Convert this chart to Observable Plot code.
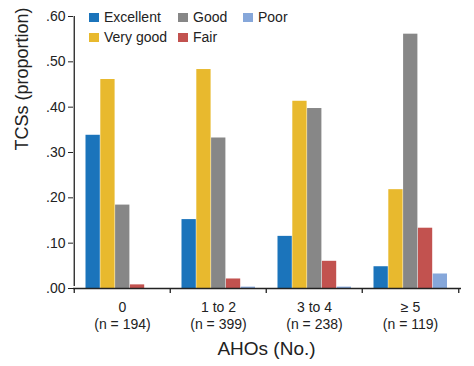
<!DOCTYPE html>
<html>
<head>
<meta charset="utf-8">
<script src="https://cdn.jsdelivr.net/npm/d3@7"></script>
<script src="https://cdn.jsdelivr.net/npm/@observablehq/plot@0.6"></script>
<style>
  body { margin: 0; background: #fff; }
  #wrap { position: relative; width: 474px; height: 366px; font-family: "Liberation Sans", Arial, sans-serif; }
  #legend { position: absolute; left: 0; top: 0; font-size: 14px; color: #222; }
  .item { position: absolute; display: flex; align-items: center; white-space: nowrap; }
  .sw { width: 10px; height: 9px; margin-right: 5px; }
</style>
</head>
<body>
<div id="wrap"><div id="legend"></div></div>
<script>
const categories = ["0", "1 to 2", "3 to 4", "\u2265 5"];
const counts = [194, 399, 238, 119];
const series = ["Excellent", "Very good", "Good", "Fair", "Poor"];
const colors = ["#1b74bb", "#e8b92e", "#878787", "#c2524f", "#86a7da"];
const excellent = [0.338, 0.152, 0.115, 0.048];
const veryGood  = [0.461, 0.483, 0.413, 0.218];
const good      = [0.184, 0.332, 0.397, 0.561];
const fair      = [0.008, 0.021, 0.060, 0.133];
const poor      = [0.000, 0.003, 0.003, 0.032];
const yTicks = [0, 0.1, 0.2, 0.3, 0.4, 0.5, 0.6];

const valuesBySeries = [excellent, veryGood, good, fair, poor];
const data = [];
series.forEach((s, si) => categories.forEach((c, ci) => data.push({series: s, cat: c, value: valuesBySeries[si][ci]})));

const W = 474, H = 366, mL = 73, mR = 15;
const step = (W - mL - mR) / categories.length;
const off = 11.5, bw = 14.8;

const barMarks = series.map((s, i) => Plot.barY(data.filter(d => d.series === s), {
  x: "cat", y: "value", fill: colors[i],
  insetLeft: off + bw * i, insetRight: step - off - bw * (i + 1)
}));

const chart = Plot.plot({
  width: W, height: H,
  marginLeft: mL, marginRight: mR, marginTop: 16, marginBottom: 78,
  style: {fontFamily: "Liberation Sans, Arial, sans-serif", color: "#222", background: "white"},
  x: {domain: categories, padding: 0},
  y: {domain: [0, 0.6]},
  marks: [
    ...barMarks,
    Plot.ruleY([0], {stroke: "#222", strokeWidth: 1.3, insetRight: -2}),
    Plot.ruleX([0], {x: () => categories[0], y1: 0, y2: 0.6, dx: -step / 2, stroke: "#222", strokeWidth: 1.3, insetTop: -2}),
    Plot.ruleX(categories, {x: d => d, y1: 0, y2: 0, insetBottom: -5, dx: -step / 2, stroke: "#222", strokeWidth: 1.3}),
    Plot.ruleX([categories[categories.length - 1]], {x: d => d, y1: 0, y2: 0, insetBottom: -5, dx: step / 2, stroke: "#222", strokeWidth: 1.3}),
    Plot.axisY({ticks: yTicks, tickSize: 5, tickPadding: 3, fontSize: 14, label: null,
      tickFormat: d => d3.format(".2f")(d).replace(/^0/, "")}),
    Plot.axisX({tickSize: 0, tickPadding: 12, fontSize: 14, lineHeight: 1.2, label: null,
      tickFormat: (d, i) => d + "\n(n = " + counts[categories.indexOf(d)] + ")"}),
    Plot.text(["AHOs (No.)"], {frameAnchor: "bottom", dy: 66, fontSize: 19, fill: "#222"}),
    Plot.text(["TCSs (proportion)"], {frameAnchor: "left", dx: -51, dy: -2, rotate: -90, fontSize: 18, fontWeight: 500, fill: "#222"})
  ]
});
document.getElementById("wrap").prepend(chart);

const legendPos = [[89, 13], [89, 33], [178, 13], [178, 33], [243, 13]];
const legend = document.getElementById("legend");
series.forEach((s, i) => {
  const it = document.createElement("div");
  it.className = "item";
  it.style.left = legendPos[i][0] + "px";
  it.style.top = (legendPos[i][1] - 4) + "px";
  it.innerHTML = `<span class="sw" style="background:${colors[i]}"></span><span>${s}</span>`;
  legend.appendChild(it);
});
</script>
</body>
</html>
